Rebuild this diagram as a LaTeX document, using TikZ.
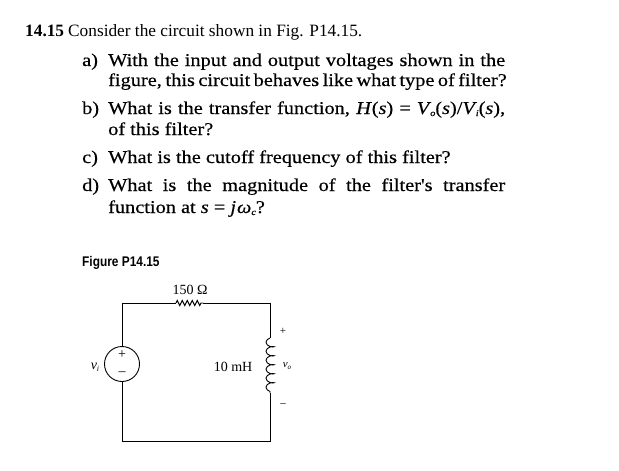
\documentclass[tikz,border=0pt]{standalone}
\usepackage{fontspec}
\setmainfont{Liberation Serif}
\newfontfamily\itemfont{Liberation Serif}[FakeStretch=1.13,FakeBold=0.4]
\newfontfamily\figfont{Liberation Sans}[FakeStretch=0.85]
\usetikzlibrary{decorations.pathmorphing}
\begin{document}
\begin{tikzpicture}[x=1pt,y=-1pt,
  txt/.style={anchor=base west,inner sep=0,font=\fontsize{17.3}{20}\selectfont},
  itm/.style={anchor=base west,inner sep=0,font=\itemfont\fontsize{18}{20}\selectfont},
  wire/.style={line width=0.9pt},
  lab/.style={inner sep=0,font=\fontsize{14}{16}\selectfont}]
\useasboundingbox[fill=white] (0,0) rectangle (619,471);
\node[txt] (n0) at (25,36) {\textbf{14.15}};
\node[txt] (l0) at (68,36) {Consider the circuit shown in Fig. P14.15.};
\node[itm] (a) at (82,66) {a)};
\node[itm] (l1) at (108,66) {\makebox[397pt][s]{With the input and output voltages shown in the}};
\node[itm] (l2) at (108,86) {\makebox[397pt][s]{figure, this circuit behaves like what type of filter?}};
\node[itm] (b) at (82,114) {b)};
\node[itm] (l3) at (108,114) {\makebox[397pt][s]{What is the transfer function, \textit{H}(\textit{s}) = \textit{V}\kern-1pt\raisebox{-2pt}{\small\textit{o}}(\textit{s})/\textit{V}\kern-1pt\raisebox{-2pt}{\small\textit{i}}(\textit{s}),}};
\node[itm] (l4) at (108,135) {of this filter?};
\node[itm] (c) at (82,163) {c)};
\node[itm] (l5) at (108,163) {What is the cutoff frequency of this filter?};
\node[itm] (d) at (82,191) {d)};
\node[itm] (l6) at (108,191) {\makebox[397pt][s]{What is the magnitude of the filter's transfer}};
\node[itm] (l7) at (108,213) {function at \textit{s} = \textit{j\kern1pt ω}\raisebox{-2pt}{\small\textit{c}}?};
\node[anchor=base west,inner sep=0,font=\figfont\bfseries\fontsize{14}{16}\selectfont] (fig) at (82,266) {Figure P14.15};
% circuit
\coordinate (tl) at (122,303); \coordinate (tr) at (270,303);
\coordinate (bl) at (122,441); \coordinate (br) at (270,441);
\coordinate (r1) at (176,303); \coordinate (r2) at (203,303);
\coordinate (i1) at (270,338); \coordinate (i2) at (270,393);
\node[circle,draw,line width=0.9pt,minimum size=35pt,inner sep=0] (src) at (122,364) {};
\draw[wire] (src.north) -- (tl) -- (r1);
\draw[wire,decorate,decoration={zigzag,segment length=5pt,amplitude=2.5pt}] (r1) -- (r2);
\draw[wire] (r2) -- (tr) -- (i1);
\draw[wire,decorate,decoration={coil,aspect=0.5,segment length=9pt,amplitude=4pt,mirror}] (i1) -- (i2);
\draw[wire] (i2) -- (br) -- (bl) -- (src.south);
\node[lab] (sp) at (122,355) {+};
\node[lab] (sm) at (122,374) {–};
\node[lab] (vi) at (95,367) {\textit{v\raisebox{-2pt}{\footnotesize i}}};
\node[lab] (rl) at (190,290) {150 Ω};
\node[lab] (ll) at (233,367) {10 mH};
\node[lab,font=\fontsize{11}{13}\selectfont] (op) at (283,331) {+};
\node[lab,font=\fontsize{11}{13}\selectfont] (om) at (283,405) {–};
\node[lab,font=\fontsize{11}{13}\selectfont] (vo) at (287,366) {\textit{v\raisebox{-1.5pt}{\scriptsize o}}};
\end{tikzpicture}
\end{document}
